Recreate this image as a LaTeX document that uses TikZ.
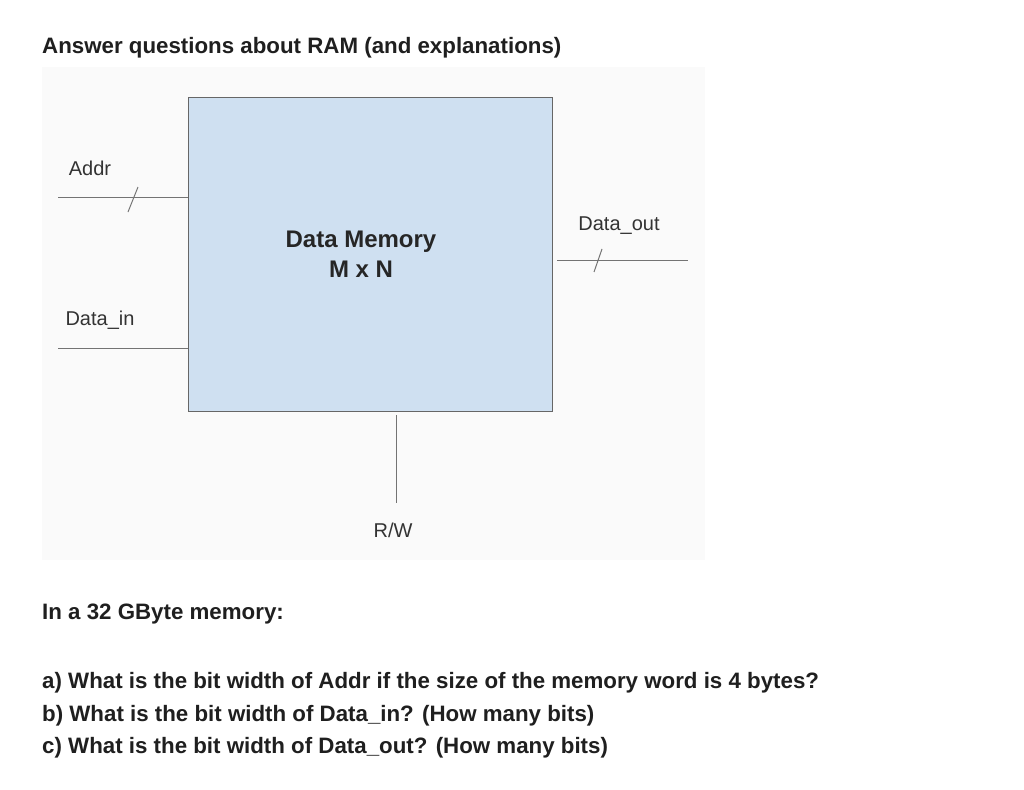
\documentclass[tikz,border=0pt]{standalone}
\usepackage{fontspec}
\setmainfont{Liberation Sans}
\begin{document}
\begin{tikzpicture}[x=1pt,y=-1pt,
  wire/.style={draw=black!55,line width=1pt},
  lbl/.style={font=\fontsize{20}{24}\selectfont,text=black!80},
  q/.style={anchor=west,font=\bfseries\fontsize{22.3}{26}\selectfont,text=black!88,inner sep=0}]
\useasboundingbox[fill=white] (0,0) rectangle (1024,789);
\node[q] (title) at (42,48) {Answer questions about RAM (and explanations)};
\fill[black!2] (42,67) rectangle (705,560);
\node[draw=black!60,fill={rgb,255:red,207;green,224;blue,241},line width=1pt,minimum width=364,minimum height=314,inner sep=0,anchor=north west] (mem) at (188,97) {};
\node[font=\bfseries\fontsize{24}{30}\selectfont,align=center,text=black!85] (mt) at (361,254) {Data Memory\\M x N};
\coordinate (a0) at (58,197); \coordinate (a1) at (188,197);
\draw[wire] (a0) -- (a1);
\draw[wire] (128,212) -- (138,187);
\node[lbl] (addr) at (90,168) {Addr};
\coordinate (d0) at (58,348); \coordinate (d1) at (188,348);
\draw[wire] (d0) -- (d1);
\node[lbl] (din) at (100,320) {Data\_in};
\coordinate (o0) at (557,260); \coordinate (o1) at (688,260);
\draw[wire] (o0) -- (o1);
\draw[wire] (594,272) -- (602,249);
\node[lbl] (dout) at (619,226) {Data\_out};
\coordinate (r0) at (396,415); \coordinate (r1) at (396,503);
\draw[wire] (r0) -- (r1);
\node[lbl] (rw) at (393,530) {R/W};
\node[q] (t1) at (42,614) {In a 32 GByte memory:};
\node[q] (t2) at (42,683) {a) What is the bit width of Addr if the size of the memory word is 4 bytes?};
\node[q] (t3) at (42,716) {b) What is the bit width of Data\_in? (How many bits)};
\node[q] (t4) at (42,748) {c) What is the bit width of Data\_out? (How many bits)};
\end{tikzpicture}
\end{document}
